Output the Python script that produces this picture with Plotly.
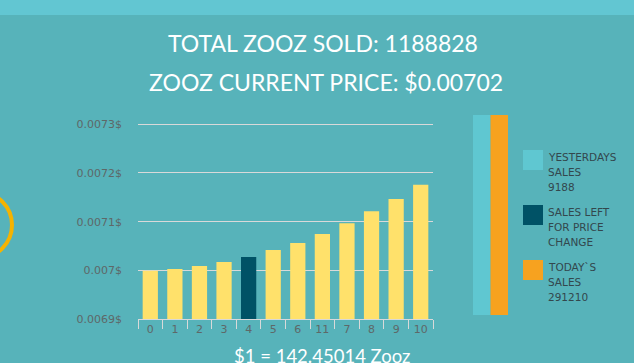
import plotly.graph_objects as go

W, H = 634, 363

# ---- data ----
categories = ["0", "1", "2", "3", "4", "5", "6", "11", "7", "8", "9", "10"]
prices = [0.006999, 0.0070027, 0.0070089, 0.0070171, 0.0070274, 0.0070418,
          0.0070562, 0.0070747, 0.0070966, 0.0071215, 0.0071465, 0.0071757]
highlight_category = "4"
ytick_vals = [0.0069, 0.0070, 0.0071, 0.0072, 0.0073]
ytick_text = ["0.0069$", "0.007$", "0.0071$", "0.0072$", "0.0073$"]

side_categories = ["yesterday", "today"]
side_values = [1, 1]

title_line1 = "TOTAL ZOOZ SOLD: 1188828"
title_line2 = "ZOOZ CURRENT PRICE: $0.00702"
footer_text = "$1 = 142.45014 Zooz"
legend_lines = [["YESTERDAYS", "SALES", "9188"],
                ["SALES LEFT", "FOR PRICE", "CHANGE"],
                ["TODAY`S", "SALES", "291210"]]

# ---- styles ----
BG = "#57B3BA"
BAND = "#62C6D2"
YELLOW = "#FFE16B"
DARK = "#005266"
CYAN = "#5FC7D1"
ORANGE = "#F7A21F"
GRID = "#D9D9D9"
TICKFONT = "#5E6868"
LEGFONT = "#33474D"
legend_colors = [CYAN, DARK, ORANGE]


def px(x):
    return x / W


def py(y):
    return 1 - y / H


bar_colors = [DARK if c == highlight_category else YELLOW for c in categories]

fig = go.Figure()
fig.add_trace(go.Bar(x=categories, y=prices, marker=dict(color=bar_colors, line=dict(width=0)),
                     width=0.62, xaxis="x", yaxis="y", hoverinfo="x+y"))
fig.add_trace(go.Bar(x=side_categories, y=side_values,
                     marker=dict(color=[CYAN, ORANGE], line=dict(width=0)),
                     width=1, xaxis="x2", yaxis="y2", hoverinfo="skip"))

top_px, bot_px = 120, 319
ymin = ytick_vals[0]
ymax = ymin + (ytick_vals[-1] - ymin) * (bot_px - top_px) / (bot_px - 124.3)

shapes = [
    dict(type="rect", xref="paper", yref="paper", x0=0, x1=1, y0=py(15), y1=1,
         fillcolor=BAND, line=dict(width=0), layer="below"),
    dict(type="circle", xref="paper", yref="paper", x0=px(-54), x1=px(12), y0=py(258), y1=py(192),
         line=dict(color="#F5B301", width=4)),
]
annotations = [
    dict(text=title_line1, x=px(323), y=py(43), xref="paper", yref="paper", showarrow=False,
         xanchor="center", yanchor="middle", font=dict(family="Lato", size=23, color="white")),
    dict(text=title_line2, x=px(326), y=py(82), xref="paper", yref="paper", showarrow=False,
         xanchor="center", yanchor="middle", font=dict(family="Lato", size=23, color="white")),
    dict(text=footer_text, x=px(322), y=py(355.5), xref="paper", yref="paper", showarrow=False,
         xanchor="center", yanchor="middle", font=dict(family="Lato", size=18.5, color="white")),
]
sq_tops = [150, 205, 260]
for i, lines in enumerate(legend_lines):
    t = sq_tops[i]
    shapes.append(dict(type="rect", xref="paper", yref="paper", x0=px(523), x1=px(543),
                       y0=py(t + 20), y1=py(t), fillcolor=legend_colors[i], line=dict(width=0)))
    for j, ln in enumerate(lines):
        annotations.append(dict(text=ln, x=px(546), y=py(t + 7 + 15 * j), xref="paper", yref="paper",
                                showarrow=False, xanchor="left", yanchor="middle",
                                font=dict(family="DejaVu Sans", size=10.5, color=LEGFONT)))

fig.update_layout(
    width=W, height=H, margin=dict(l=0, r=0, t=0, b=0, autoexpand=False),
    paper_bgcolor=BG, plot_bgcolor=BG, showlegend=False,
    xaxis=dict(domain=[px(138), px(433)], type="category", categoryorder="array",
               categoryarray=categories, tickson="boundaries", ticks="outside", ticklen=9,
               tickcolor=GRID, showline=True, linecolor=GRID, linewidth=1, showgrid=False,
               automargin=False,
               tickfont=dict(family="DejaVu Sans", size=11, color=TICKFONT), fixedrange=True),
    yaxis=dict(domain=[py(bot_px), py(top_px)], range=[ymin, ymax], tickvals=ytick_vals,
               ticktext=ytick_text, showgrid=True, gridcolor=GRID, gridwidth=1, zeroline=False,
               showline=False, ticks="", ticklabelstandoff=15, automargin=False,
               tickfont=dict(family="DejaVu Sans", size=11, color=TICKFONT), fixedrange=True),
    xaxis2=dict(domain=[px(473), px(508)], anchor="y2", type="category", range=[-0.5, 1.5],
                visible=False, fixedrange=True, automargin=False),
    yaxis2=dict(domain=[py(315), py(115)], anchor="x2", range=[0, 1], visible=False,
                fixedrange=True, automargin=False),
    shapes=shapes, annotations=annotations,
)

fig.write_html("out.html", config={"displayModeBar": False},
               post_script="document.body.style.margin='0';document.body.style.overflow='hidden';")
